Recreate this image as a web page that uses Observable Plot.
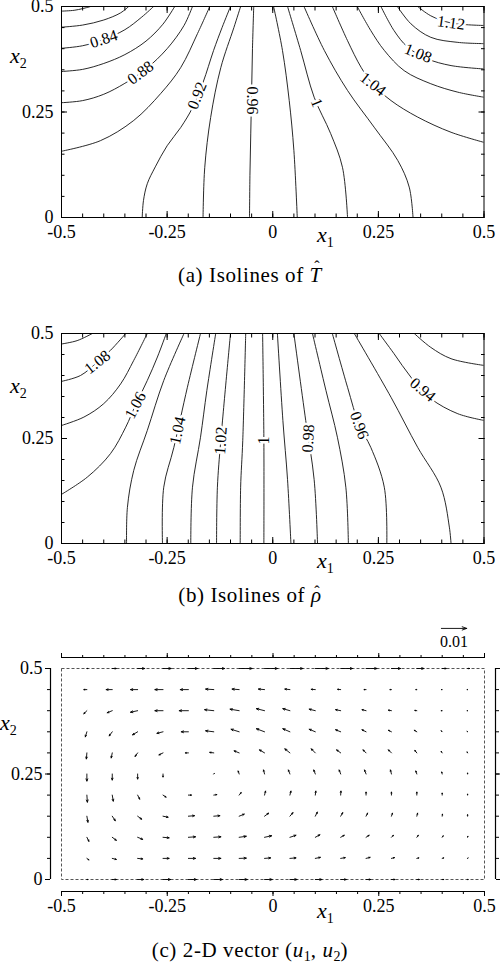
<!DOCTYPE html>
<html><head><meta charset="utf-8">
<script src="https://cdn.jsdelivr.net/npm/d3@7"></script>
<script src="https://cdn.jsdelivr.net/npm/@observablehq/plot@0.6"></script>
<style>
body{margin:0;background:#fff;width:500px;height:962px;position:relative;overflow:hidden;font-family:"Liberation Serif","Tinos","Times New Roman","DejaVu Serif","Noto Serif",serif;color:#000}
.p{position:absolute;left:0}
.lab{position:absolute;font-size:22px;line-height:1;white-space:nowrap}
.lab i{font-style:italic}
.lab sub{font-size:14px;vertical-align:baseline;position:relative;top:5px}
.cap{position:absolute;left:0;width:500px;text-align:center;font-size:21px;line-height:1;letter-spacing:0.6px;white-space:nowrap}
.cap sub{font-size:14px;vertical-align:baseline;position:relative;top:4px;letter-spacing:0}
.hat{position:relative;display:inline-block}
.hat .h{position:absolute;left:0;right:0;text-align:center;font-style:normal;font-size:16px;line-height:1}
</style></head><body>
<div id="pa" class="p" style="top:0"></div>
<div id="pb" class="p" style="top:327px"></div>
<div id="pc" class="p" style="top:612px"></div>

<div class="lab" style="left:317px;top:224px"><i>x</i><sub>1</sub></div>
<div class="lab" style="left:10px;top:45px"><i>x</i><sub>2</sub></div>
<div class="cap" style="top:265px">(a) Isolines of <span class="hat"><i>T</i><span class="h" style="top:-6px;left:3px">&#710;</span></span></div>

<div class="lab" style="left:317px;top:550px"><i>x</i><sub>1</sub></div>
<div class="lab" style="left:10px;top:375px"><i>x</i><sub>2</sub></div>
<div class="cap" style="top:585px">(b) Isolines of <span class="hat"><i>&rho;</i><span class="h" style="top:-1px;left:2px">&#710;</span></span></div>

<div class="lab" style="left:317px;top:900px"><i>x</i><sub>1</sub></div>
<div class="lab" style="left:0px;top:712px"><i>x</i><sub>2</sub></div>
<div class="cap" style="top:940px">(c) 2-D vector (<i>u</i><sub>1</sub>, <i>u</i><sub>2</sub>)</div>

<script>
// ---------- ticks ----------
const xMajor = [-0.5, -0.25, 0, 0.25, 0.5];
const xTickLabels = ["-0.5", "-0.25", "0", "0.25", "0.5"];
const xMinor = [-0.5,-0.45,-0.4,-0.35,-0.3,-0.25,-0.2,-0.15,-0.1,-0.05,0,0.05,0.1,0.15,0.2,0.25,0.3,0.35,0.4,0.45,0.5];
const yMajor = [0, 0.25, 0.5];
const yTickLabels = ["0", "0.25", "0.5"];
const yMinor = [0,0.05,0.1,0.15,0.2,0.25,0.3,0.35,0.4,0.45,0.5];

// ---------- (a) isolines of T ----------
const tLevels = [0.80,0.82,0.84,0.86,0.88,0.90,0.92,0.94,0.96,0.98,1.00,1.02,1.04,1.06,1.08,1.10,1.12];
const tPaths = [
 [[-0.5,0.489],[-0.47,0.491],[-0.45,0.495],[-0.431,0.5]],
 [[-0.5,0.451],[-0.45,0.456],[-0.40,0.468],[-0.36,0.485],[-0.341,0.5]],
 [[-0.5,0.401],[-0.45,0.407],[-0.40,0.422],[-0.35,0.445],[-0.31,0.475],[-0.282,0.5]],
 [[-0.5,0.346],[-0.45,0.351],[-0.40,0.365],[-0.35,0.386],[-0.30,0.418],[-0.26,0.458],[-0.232,0.5]],
 [[-0.5,0.272],[-0.45,0.277],[-0.40,0.292],[-0.35,0.318],[-0.30,0.352],[-0.25,0.400],[-0.21,0.455],[-0.19,0.5]],
 [[-0.5,0.157],[-0.408,0.182],[-0.329,0.230],[-0.265,0.294],[-0.218,0.355],[-0.178,0.436],[-0.149,0.5]],
 [[-0.309,0],[-0.306,0.04],[-0.297,0.08],[-0.278,0.12],[-0.25,0.17],[-0.218,0.213],[-0.19,0.26],[-0.165,0.32],[-0.14,0.396],[-0.12,0.45],[-0.100,0.5]],
 [[-0.165,0],[-0.161,0.118],[-0.147,0.237],[-0.123,0.355],[-0.092,0.450],[-0.076,0.5]],
 [[-0.055,0],[-0.054,0.1],[-0.052,0.2],[-0.050,0.3],[-0.048,0.4],[-0.045,0.5]],
 [[0.058,0],[0.050,0.159],[0.039,0.277],[0.023,0.396],[0.002,0.5]],
 [[0.177,0],[0.165,0.119],[0.137,0.199],[0.098,0.285],[0.066,0.396],[0.035,0.5]],
 [[0.332,0],[0.323,0.072],[0.296,0.135],[0.240,0.214],[0.177,0.301],[0.122,0.396],[0.074,0.5]],
 [[0.141,0.5],[0.177,0.419],[0.209,0.356],[0.236,0.317],[0.280,0.277],[0.343,0.238],[0.422,0.202],[0.5,0.178]],
 [[0.200,0.5],[0.232,0.443],[0.264,0.396],[0.311,0.348],[0.374,0.317],[0.438,0.297],[0.5,0.285]],
 [[0.256,0.5],[0.287,0.443],[0.319,0.404],[0.366,0.376],[0.422,0.360],[0.5,0.352]],
 [[0.295,0.5],[0.327,0.459],[0.374,0.427],[0.438,0.415],[0.5,0.412]],
 [[0.343,0.5],[0.374,0.478],[0.422,0.461],[0.5,0.455]]
];
const tLabelText = ["0.84","0.88","0.92","0.96","1","1.04","1.08","1.12"];
const tLabelPos = [[-0.400,0.423],[-0.313,0.343],[-0.179,0.289],[-0.049,0.277],[0.104,0.272],[0.237,0.316],[0.344,0.389],[0.422,0.461]];
const tLabelAngle = [-18,-36,-68,90,68,38,22,8];

// ---------- (b) isolines of rho ----------
const rLevels = [0.93,0.94,0.95,0.96,0.97,0.98,0.99,1.00,1.01,1.02,1.03,1.04,1.05,1.06,1.07,1.08,1.09];
const rPaths = [
 [[0.335,0.5],[0.374,0.467],[0.422,0.44],[0.5,0.424]],
 [[0.252,0.5],[0.287,0.452],[0.327,0.396],[0.374,0.345],[0.438,0.309],[0.5,0.293]],
 [[0.193,0.5],[0.280,0.348],[0.343,0.229],[0.398,0.134],[0.418,0.039],[0.422,0]],
 [[0.141,0.5],[0.177,0.372],[0.205,0.281],[0.232,0.229],[0.264,0.134],[0.270,0]],
 [[0.094,0.5],[0.126,0.364],[0.153,0.253],[0.173,0.134],[0.179,0]],
 [[0.050,0.5],[0.078,0.293],[0.098,0.152],[0.106,0]],
 [[0.011,0.5],[0.024,0.293],[0.035,0.152],[0.043,0]],
 [[-0.024,0.5],[-0.021,0.245],[-0.021,0]],
 [[-0.064,0.5],[-0.071,0.245],[-0.076,0.134],[-0.077,0]],
 [[-0.100,0.5],[-0.123,0.245],[-0.131,0.134],[-0.133,0]],
 [[-0.135,0.5],[-0.156,0.364],[-0.171,0.253],[-0.190,0.134],[-0.194,0]],
 [[-0.171,0.5],[-0.202,0.372],[-0.234,0.229],[-0.258,0.134],[-0.261,0]],
 [[-0.210,0.5],[-0.258,0.388],[-0.297,0.269],[-0.329,0.174],[-0.344,0.086],[-0.346,0]],
 [[-0.252,0.5],[-0.273,0.444],[-0.297,0.388],[-0.325,0.329],[-0.348,0.277],[-0.384,0.214],[-0.439,0.158],[-0.5,0.117]],
 [[-0.297,0.5],[-0.329,0.436],[-0.360,0.380],[-0.400,0.333],[-0.447,0.301],[-0.5,0.281]],
 [[-0.348,0.5],[-0.384,0.46],[-0.415,0.432],[-0.455,0.4],[-0.5,0.386]],
 [[-0.427,0.5],[-0.463,0.483],[-0.5,0.475]]
];
const rLabelText = ["1.08","1.06","1.04","1.02","1","0.98","0.96","0.94"];
const rLabelPos = [[-0.415,0.432],[-0.325,0.329],[-0.225,0.269],[-0.123,0.245],[-0.021,0.245],[0.084,0.25],[0.205,0.281],[0.355,0.366]];
const rLabelAngle = [-38,-62,-78,-86,-90,-86,70,40];

// ---------- (c) velocity vectors (units of 1e-3) ----------
const vecX = [-0.44,-0.38,-0.32,-0.26,-0.20,-0.14,-0.08,-0.02,0.04,0.10,0.16,0.22,0.28,0.34,0.40,0.46];
const vecY = [0.5,0.45,0.40,0.35,0.30,0.25,0.20,0.15,0.10,0.05,0];
const u1 = [
 [0.4,1.6,2.8,3.2,3.6,4.3,5.1,5.1,5.1,5.1,4.7,4.3,3.6,2.8,1.6,0.8],
 [-1.2,-2.4,-2.8,-3.2,-3.2,-3.2,-2.8,-2.4,-2.0,-1.6,-1.2,-0.8,-0.6,-0.4,-0.3,-0.2],
 [-1.2,-2.0,-2.8,-3.2,-3.6,-3.6,-3.6,-3.2,-2.8,-2.4,-2.0,-1.6,-1.2,-0.8,-0.4,-0.2],
 [-0.6,-1.2,-2.0,-2.4,-2.8,-3.2,-3.2,-3.2,-2.8,-2.4,-2.0,-1.6,-1.2,-1.0,-0.4,-0.2],
 [-0.2,-0.4,-1.0,-1.6,-1.2,-1.6,-2.0,-2.0,-2.0,-1.6,-1.6,-1.2,-1.2,-0.8,-0.4,-0.2],
 [0,0,0,0,0,0.2,-0.4,-0.4,-0.6,-0.6,-0.6,-0.6,-0.4,-0.4,-0.2,0],
 [0.2,0.4,0.8,1.2,1.2,1.2,0.8,0.4,0.4,0.2,0.1,0,0,0,0,0],
 [0.4,1.2,1.6,2.0,2.4,2.4,2.0,1.6,1.2,0.8,0.8,0.6,0.4,0.3,0.1,0],
 [0.8,1.6,2.0,2.4,2.8,2.8,2.8,2.8,2.4,1.8,1.4,1.2,0.8,0.6,0.4,0.1],
 [0.8,1.6,2.0,2.4,2.8,2.8,2.8,2.4,2.4,2.0,1.8,1.6,1.2,0.8,0.6,0.2],
 [0.4,1.6,2.4,3.0,3.2,3.4,3.2,3.0,2.8,2.6,2.2,1.8,1.4,1.0,0.6,0.2]
];
const u2 = [
 [0,0,0,0,0,0,0,0,0,0,0,0,0,0,0,0],
 [0,0,0,0,0,0.2,0.2,0.2,0.2,0.1,0.1,0,0,0,0,0],
 [-1.2,-0.8,-0.6,0,0,0.4,0.6,0.8,0.8,0.6,0.4,0.4,0.2,0.1,0,0],
 [-2.0,-1.6,-1.2,-0.6,0,0.4,1.0,1.2,1.2,1.0,0.8,0.8,0.6,0.6,0.4,0.2],
 [-2.4,-2.0,-1.4,-0.8,0,0.2,0.8,1.2,1.6,1.6,1.2,1.2,1.2,1.0,0.6,0.4],
 [-2.8,-2.4,-2.0,-1.2,0,0.2,1.2,1.6,1.6,1.6,1.6,1.6,1.6,1.2,0.8,0.4],
 [-2.8,-2.4,-1.6,-0.8,0,0.2,1.0,1.6,1.6,1.6,1.6,1.2,1.2,1.2,0.8,0.4],
 [-2.4,-1.8,-1.2,-0.4,0.2,0.2,0.8,1.2,1.4,1.6,1.4,1.2,1.2,1.2,0.8,0.6],
 [-1.6,-1.2,-0.8,-0.2,0.2,0.2,0.4,0.6,0.8,1.0,0.8,0.8,0.8,0.8,0.6,0.4],
 [-0.6,-0.4,-0.2,0,0,0,0.1,0.2,0.2,0.4,0.3,0.4,0.3,0.2,0.2,0.2],
 [0,0,0,0,0,0,0,0,0,0,0,0,0,0,0,0]
];
const refValue = 10;            // 0.01 reference vector, in units of 1e-3
const refLabel = "0.01";
const refAt = [0.398, 0.595];   // legend position (data units)
const vecScale = 0.006;         // x-units per 1e-3 velocity unit

// ---------- helpers ----------
const FONT = "'Liberation Serif', Tinos, 'Times New Roman', 'DejaVu Serif', 'Noto Serif', serif";
const fx = d => xTickLabels[xMajor.indexOf(d)];
const fy = d => yTickLabels[yMajor.indexOf(d)];

function isolinePanel(levels, paths, labText, labPos, labAngle, mb) {
  const rows = paths.flatMap((p, i) => p.map(([x, y]) => ({x, y, level: levels[i]})));
  const labs = labText.map((t, i) => ({t, x: labPos[i][0], y: labPos[i][1], a: labAngle[i]}));
  return Plot.plot({
    width: 500, height: 250,
    marginLeft: 61, marginRight: 16.5, marginTop: 6, marginBottom: mb,
    x: {domain: [-0.5, 0.5], axis: null},
    y: {domain: [0, 0.5], axis: null},
    style: {fontFamily: FONT, fontSize: "18px", color: "#000", background: "transparent", overflow: "visible"},
    marks: [
      Plot.line(rows, {x: "x", y: "y", z: "level", curve: "catmull-rom", stroke: "#111", strokeWidth: 0.9, clip: true}),
      Plot.text(labs, {x: "x", y: "y", text: "t", rotate: "a", fontSize: 16, fontFamily: FONT, fill: "#000", stroke: "#fff", strokeWidth: 5}),
      Plot.frame({stroke: "#000", strokeWidth: 1}),
      Plot.axisX(xMajor, {anchor: "bottom", tickSize: 6, dy: -6, fill: "none", label: null}),
      Plot.axisX(xMinor, {anchor: "bottom", tickSize: 3.5, dy: -3.5, fill: "none", label: null}),
      Plot.axisX(xMajor, {anchor: "top", tickSize: 6, dy: 6, fill: "none", label: null}),
      Plot.axisX(xMinor, {anchor: "top", tickSize: 3.5, dy: 3.5, fill: "none", label: null}),
      Plot.axisY(yMajor, {anchor: "left", tickSize: 6, dx: 6, fill: "none", label: null}),
      Plot.axisY(yMinor, {anchor: "left", tickSize: 3.5, dx: 3.5, fill: "none", label: null}),
      Plot.axisY(yMajor, {anchor: "right", tickSize: 6, dx: -6, fill: "none", label: null}),
      Plot.axisY(yMinor, {anchor: "right", tickSize: 3.5, dx: -3.5, fill: "none", label: null}),
      Plot.axisX(xMajor, {anchor: "bottom", tickSize: 0, tickPadding: 8, tickFormat: fx, label: null, fontSize: 18, fontFamily: FONT}),
      Plot.axisY(yMajor, {anchor: "left", tickSize: 0, tickPadding: 8, tickFormat: fy, label: null, fontSize: 18, fontFamily: FONT})
    ]
  });
}

document.getElementById("pa").append(isolinePanel(tLevels, tPaths, tLabelText, tLabelPos, tLabelAngle, 33));
document.getElementById("pb").append(isolinePanel(rLevels, rPaths, rLabelText, rLabelPos, rLabelAngle, 34));

// vector panel
const vecRows = vecY.flatMap((y, j) => vecX.map((x, i) => ({x, y, u: u1[j][i], v: u2[j][i]})))
  .filter(d => d.u !== 0 || d.v !== 0);
const ref = [{x: refAt[0], y: refAt[1], u: refValue, t: refLabel}];

const vec = Plot.plot({
  width: 500, height: 307,
  marginLeft: 61, marginRight: 16, marginTop: 56, marginBottom: 40,
  x: {domain: [-0.5, 0.5], axis: null},
  y: {domain: [0, 0.5], axis: null},
  style: {fontFamily: FONT, fontSize: "18px", color: "#000", background: "transparent", overflow: "visible"},
  marks: [
    Plot.frame({stroke: "#555", strokeDasharray: "3,2", strokeWidth: 1}),
    Plot.arrow(vecRows, {
      x1: "x", y1: "y",
      x2: d => d.x + d.u * vecScale, y2: d => d.y + d.v * vecScale,
      stroke: "#000", strokeWidth: 0.9, headLength: 4, headAngle: 45
    }),
    // detached axes
    Plot.ruleY([0], {dy: 12, stroke: "#000", strokeWidth: 1.2}),
    Plot.ruleY([0.5], {dy: -11, stroke: "#000", strokeWidth: 1.2}),
    Plot.ruleX([-0.5], {dx: -11, stroke: "#000", strokeWidth: 1.2}),
    Plot.ruleX([0.5], {dx: 11, stroke: "#000", strokeWidth: 1.2}),
    Plot.axisX(xMajor, {anchor: "bottom", dy: 12, tickSize: 5, tickPadding: 3, tickFormat: fx, label: null, fontSize: 18, fontFamily: FONT}),
    Plot.axisX(xMinor, {anchor: "bottom", dy: 12, tickSize: 3, fill: "none", label: null}),
    Plot.axisX(xMajor, {anchor: "top", dy: -11, tickSize: 5, fill: "none", label: null}),
    Plot.axisX(xMinor, {anchor: "top", dy: -11, tickSize: 3, fill: "none", label: null}),
    Plot.axisY(yMajor, {anchor: "left", dx: -11, tickSize: 5, tickPadding: 3, tickFormat: fy, label: null, fontSize: 18, fontFamily: FONT}),
    Plot.axisY(yMinor, {anchor: "left", dx: -11, tickSize: 3, fill: "none", label: null}),
    Plot.axisY(yMajor, {anchor: "right", dx: 11, tickSize: 5, fill: "none", label: null}),
    Plot.axisY(yMinor, {anchor: "right", dx: 11, tickSize: 3, fill: "none", label: null}),
    // reference vector legend
    Plot.arrow(ref, {x1: "x", y1: "y", x2: d => d.x + d.u * vecScale, y2: "y", stroke: "#000", strokeWidth: 0.9, headLength: 8, headAngle: 40}),
    Plot.text(ref, {x: d => d.x + d.u * vecScale / 2, y: "y", dy: 13, text: "t", fontSize: 16, fontFamily: FONT, fill: "#000"})
  ]
});
document.getElementById("pc").append(vec);
</script>
</body></html>
